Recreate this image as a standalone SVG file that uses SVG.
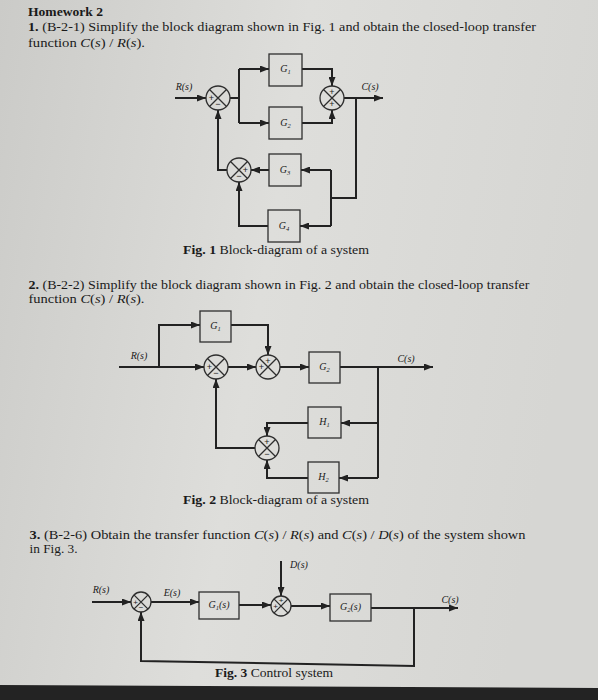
<svg xmlns="http://www.w3.org/2000/svg" width="598" height="700" viewBox="0 0 598 700">
<defs>
<linearGradient id="bg" x1="0" y1="0" x2="1" y2="0.2">
<stop offset="0" stop-color="#cbcbc8"/>
<stop offset="0.5" stop-color="#dededb"/>
<stop offset="1" stop-color="#d6d6d3"/>
</linearGradient>
<marker id="ah" markerWidth="9" markerHeight="7" refX="9" refY="3.5" orient="auto" markerUnits="userSpaceOnUse">
<path d="M0,0 L9,3.5 L0,7 z" fill="#222"/>
</marker>
<g id="sx12"><circle r="12" class="sum"/><path d="M-8.5,-8.5 L8.5,8.5 M-8.5,8.5 L8.5,-8.5" class="sum"/></g>
<g id="sx10"><circle r="10" class="sum"/><path d="M-7.1,-7.1 L7.1,7.1 M-7.1,7.1 L7.1,-7.1" class="sum"/></g>
</defs>
<style>
.t{font-family:"Liberation Serif","Times New Roman",serif;fill:#1a1a1a}
.h{font-size:13.5px}
.b{font-weight:bold}
.i{font-style:italic}
.lbl{font-size:10px;font-style:italic;text-anchor:middle}
.cap{font-size:13.5px}
.w{fill:none;stroke:#222;stroke-width:2}
.a{marker-end:url(#ah)}
.box{fill:none;stroke:#2e2e2e;stroke-width:1.3}
.sum{fill:none;stroke:#2e2e2e;stroke-width:1.3}
.sg{font-family:"Liberation Sans",Arial,sans-serif;font-size:9px;text-anchor:middle;fill:#222}
.sg3{font-family:"Liberation Sans",Arial,sans-serif;font-size:8px;text-anchor:middle;fill:#222}
</style>
<rect width="598" height="700" fill="url(#bg)"/>

<!-- Header text -->
<g id="text-header">
<text class="t h b" x="28" y="16" textLength="75" lengthAdjust="spacingAndGlyphs">Homework 2</text>
<text class="t h" x="28" y="31" textLength="508" lengthAdjust="spacingAndGlyphs"><tspan class="b">1.</tspan> (B-2-1) Simplify the block diagram shown in Fig. 1 and obtain the closed-loop transfer</text>
<text class="t h" x="28" y="47" textLength="117" lengthAdjust="spacingAndGlyphs">function <tspan class="i">C</tspan>(<tspan class="i">s</tspan>) / <tspan class="i">R</tspan>(<tspan class="i">s</tspan>).</text>
</g>

<!-- Figure 1 -->
<g id="fig1-connectors">
<path class="w a" d="M175 98 H206"/>
<path class="w" d="M230 98 H239 M239 69 V123"/>
<path class="w a" d="M239 69 H269"/>
<path class="w a" d="M239 123 H269"/>
<path class="w a" d="M302 69 H332 V86"/>
<path class="w a" d="M302 123 H332 V110"/>
<path class="w a" d="M344 98 H383"/>
<path class="w" d="M356 98 V198 H331 M331 170 V226"/>
<path class="w a" d="M331 170 H301"/>
<path class="w a" d="M331 226 H300"/>
<path class="w a" d="M269 170 H251"/>
<path class="w a" d="M227 170 H218 V110"/>
<path class="w a" d="M268 226 H239 V182"/>
</g>
<g id="f1-R"><text class="t lbl" x="184" y="90">R(s)</text></g>
<g id="f1-C"><text class="t lbl" x="370" y="90">C(s)</text></g>
<g id="f1-S1"><use href="#sx12" x="218" y="98"/><text class="sg" x="211.5" y="101">+</text><text class="sg" x="218" y="107">−</text></g>
<g id="f1-S2"><use href="#sx12" x="332" y="98"/><text class="sg" x="332" y="94.5">+</text><text class="sg" x="332" y="107">+</text></g>
<g id="f1-S3"><use href="#sx12" x="239" y="170"/><text class="sg" x="245.5" y="173">+</text><text class="sg" x="239" y="179">−</text></g>
<g id="f1-G1"><rect class="box" x="269" y="54" width="33" height="32"/><text class="t lbl" x="285.5" y="72">G<tspan font-size="6.5" dy="1.5">1</tspan></text></g>
<g id="f1-G2"><rect class="box" x="269" y="107" width="33" height="32"/><text class="t lbl" x="285.5" y="126">G<tspan font-size="6.5" dy="1.5">2</tspan></text></g>
<g id="f1-G3"><rect class="box" x="269" y="154" width="32" height="32"/><text class="t lbl" x="285" y="173">G<tspan font-size="6.5" dy="1.5">3</tspan></text></g>
<g id="f1-G4"><rect class="box" x="268" y="210" width="32" height="32"/><text class="t lbl" x="284" y="229">G<tspan font-size="6.5" dy="1.5">4</tspan></text></g>
<g id="f1-caption"><text class="t cap" x="183" y="254" textLength="186" lengthAdjust="spacingAndGlyphs"><tspan class="b">Fig. 1</tspan> Block-diagram of a system</text></g>

<!-- Part 2 text -->
<g id="text-part2">
<text class="t h" x="28.5" y="289" textLength="501" lengthAdjust="spacingAndGlyphs"><tspan class="b">2.</tspan> (B-2-2) Simplify the block diagram shown in Fig. 2 and obtain the closed-loop transfer</text>
<text class="t h" x="28.5" y="303" textLength="116" lengthAdjust="spacingAndGlyphs">function <tspan class="i">C</tspan>(<tspan class="i">s</tspan>) / <tspan class="i">R</tspan>(<tspan class="i">s</tspan>).</text>
</g>

<!-- Figure 2 -->
<g id="fig2-connectors">
<path class="w a" d="M119 367 H204"/>
<path class="w a" d="M159 367 V325 H200"/>
<path class="w a" d="M228 367 H256"/>
<path class="w a" d="M231 325 H268 V355"/>
<path class="w a" d="M280 367 H309"/>
<path class="w a" d="M340 367 H433"/>
<path class="w" d="M378 367 V478"/>
<path class="w a" d="M378 423 H341"/>
<path class="w a" d="M378 478 H339"/>
<path class="w a" d="M308 423 H267 V436"/>
<path class="w a" d="M308 478 H267 V460"/>
<path class="w a" d="M255 448 H216 V379"/>
</g>
<g id="f2-R"><text class="t lbl" x="139" y="359">R(s)</text></g>
<g id="f2-C"><text class="t lbl" x="406" y="362">C(s)</text></g>
<g id="f2-SA"><use href="#sx12" x="216" y="367"/><text class="sg" x="209.5" y="370">+</text><text class="sg" x="216" y="376">−</text></g>
<g id="f2-SB"><use href="#sx12" x="268" y="367"/><text class="sg" x="268" y="363.5">+</text><text class="sg" x="261.5" y="370">+</text></g>
<g id="f2-SC"><use href="#sx12" x="267" y="448"/><text class="sg" x="267" y="444.5">+</text><text class="sg" x="267" y="457">−</text></g>
<g id="f2-G1"><rect class="box" x="200" y="311" width="31" height="31"/><text class="t lbl" x="215.5" y="329">G<tspan font-size="6.5" dy="1.5">1</tspan></text></g>
<g id="f2-G2"><rect class="box" x="309" y="352" width="31" height="31"/><text class="t lbl" x="324.5" y="370">G<tspan font-size="6.5" dy="1.5">2</tspan></text></g>
<g id="f2-H1"><rect class="box" x="308" y="407" width="33" height="31"/><text class="t lbl" x="324.5" y="425">H<tspan font-size="6.5" dy="1.5">1</tspan></text></g>
<g id="f2-H2"><rect class="box" x="308" y="462" width="31" height="31"/><text class="t lbl" x="323.5" y="480">H<tspan font-size="6.5" dy="1.5">2</tspan></text></g>
<g id="f2-caption"><text class="t cap" x="183" y="504" textLength="186" lengthAdjust="spacingAndGlyphs"><tspan class="b">Fig. 2</tspan> Block-diagram of a system</text></g>

<!-- Part 3 text -->
<g id="text-part3">
<text class="t h" x="29.5" y="539" textLength="496" lengthAdjust="spacingAndGlyphs"><tspan class="b">3.</tspan> (B-2-6) Obtain the transfer function <tspan class="i">C</tspan>(<tspan class="i">s</tspan>) / <tspan class="i">R</tspan>(<tspan class="i">s</tspan>) and <tspan class="i">C</tspan>(<tspan class="i">s</tspan>) / <tspan class="i">D</tspan>(<tspan class="i">s</tspan>) of the system shown</text>
<text class="t h" x="29.5" y="553" textLength="48" lengthAdjust="spacingAndGlyphs">in Fig. 3.</text>
</g>

<!-- Figure 3 -->
<g id="fig3-connectors">
<path class="w a" d="M92 602 H131"/>
<path class="w a" d="M151 602 H199"/>
<path class="w a" d="M239 605 H271"/>
<path class="w a" d="M281 561 V596"/>
<path class="w a" d="M291 606 H330"/>
<path class="w a" d="M371 608 H458"/>
<path class="w a" d="M414 608 V666 L141 661 V612"/>
</g>
<g id="f3-R"><text class="t lbl" x="101" y="593">R(s)</text></g>
<g id="f3-E"><text class="t lbl" x="172" y="596">E(s)</text></g>
<g id="f3-D"><text class="t lbl" x="299" y="568">D(s)</text></g>
<g id="f3-C"><text class="t lbl" x="450" y="603">C(s)</text></g>
<g id="f3-S1"><use href="#sx10" x="141" y="602"/><text class="sg3" x="135.5" y="605">+</text><text class="sg3" x="141" y="610">−</text></g>
<g id="f3-S2"><use href="#sx10" x="281" y="606"/><text class="sg3" x="281" y="602.5">+</text><text class="sg3" x="275.5" y="609">+</text></g>
<g id="f3-G1"><rect class="box" x="199" y="592" width="40" height="27"/><text class="t lbl" x="219" y="608">G<tspan font-size="6.5" dy="1.5">1</tspan><tspan dy="-1.5">(s)</tspan></text></g>
<g id="f3-G2"><rect class="box" x="330" y="594" width="41" height="27"/><text class="t lbl" x="350.5" y="610">G<tspan font-size="6.5" dy="1.5">2</tspan><tspan dy="-1.5">(s)</tspan></text></g>
<g id="f3-caption"><text class="t cap" x="215" y="677" textLength="118" lengthAdjust="spacingAndGlyphs"><tspan class="b">Fig. 3</tspan> Control system</text></g>

<path d="M0 685 L598 688 V700 H0 Z" fill="#232323"/>
</svg>
